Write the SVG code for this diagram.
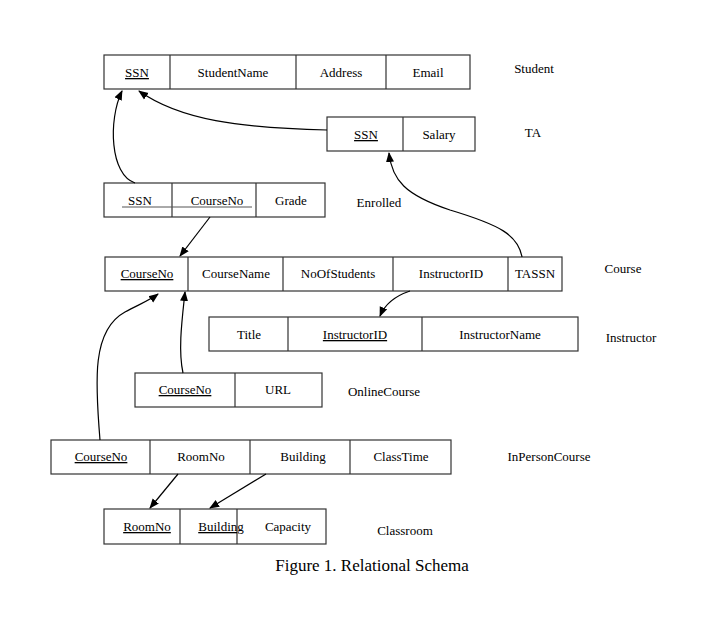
<svg xmlns="http://www.w3.org/2000/svg" width="705" height="620" viewBox="0 0 705 620">
<style>
rect{fill:#fff;stroke:#333;stroke-width:1.2}
.d{stroke:#333;stroke-width:1.2}
text{font-family:"Liberation Serif",serif;font-size:13px;fill:#000;text-anchor:middle}
.u{text-decoration:underline}
.c path{fill:none;stroke:#000;stroke-width:1.2;marker-end:url(#a)}
</style>
<defs><marker id="a" markerWidth="10" markerHeight="10" refX="9" refY="5" orient="auto" markerUnits="userSpaceOnUse"><path d="M0,1 L10,5 L0,9 z" fill="#000"/></marker></defs>
<rect x="0" y="0" width="705" height="620" style="stroke:none"/>
<g id="student"><rect x="104" y="55" width="366" height="34"/><path class="d" d="M170,55V89M296,55V89M386,55V89"/>
<text x="137" y="77" class="u">SSN</text><text x="233" y="77">StudentName</text><text x="341" y="77">Address</text><text x="428" y="77">Email</text><text x="534" y="73">Student</text></g>
<g id="ta"><rect x="327" y="117" width="148" height="34"/><path class="d" d="M403,117V151"/>
<text x="366" y="139" class="u">SSN</text><text x="439" y="139">Salary</text><text x="533" y="137">TA</text></g>
<g id="enrolled"><rect x="104" y="183" width="221" height="34"/><path class="d" d="M172,183V217M256,183V217"/>
<text x="140" y="205">SSN</text><text x="217" y="205">CourseNo</text><path d="M122,207H252" stroke="#555" stroke-width="1"/><text x="291" y="205">Grade</text><text x="379" y="207">Enrolled</text></g>
<g id="course"><rect x="105" y="257" width="457" height="34"/><path class="d" d="M188,257V291M283,257V291M393,257V291M508,257V291"/>
<text x="147" y="278" class="u">CourseNo</text><text x="236" y="278">CourseName</text><text x="338" y="278">NoOfStudents</text><text x="451" y="278">InstructorID</text><text x="535" y="278">TASSN</text><text x="623" y="273">Course</text></g>
<g id="instructor"><rect x="209" y="317" width="369" height="34"/><path class="d" d="M288,317V351M422,317V351"/>
<text x="249" y="339">Title</text><text x="355" y="339" class="u">InstructorID</text><text x="500" y="339">InstructorName</text><text x="631" y="342">Instructor</text></g>
<g id="online"><rect x="135" y="373" width="187" height="34"/><path class="d" d="M235,373V407"/>
<text x="185" y="394" class="u">CourseNo</text><text x="278" y="394">URL</text><text x="384" y="396">OnlineCourse</text></g>
<g id="inperson"><rect x="51" y="440" width="400" height="34"/><path class="d" d="M150,440V474M250,440V474M350,440V474"/>
<text x="101" y="461" class="u">CourseNo</text><text x="201" y="461">RoomNo</text><text x="303" y="461">Building</text><text x="401" y="461">ClassTime</text><text x="549" y="461">InPersonCourse</text></g>
<g id="classroom"><rect x="104" y="509" width="222" height="35"/><path class="d" d="M180,509V544M237,509V544"/>
<text x="147" y="531" class="u">RoomNo</text><text x="221" y="531" class="u">Building</text><text x="288" y="531">Capacity</text><text x="405" y="535">Classroom</text></g>
<text x="372" y="571" style="font-size:17px">Figure 1. Relational Schema</text>
<g class="c">
<path d="M135,183 C110,175 108,120 122,91"/>
<path d="M327,130 C240,128 180,120 139,91"/>
<path d="M522,257 C518,235 500,225 450,210 C405,195 392,180 389,153"/>
<path d="M210,217 L180,256"/>
<path d="M410,291 C395,296 385,304 380,316"/>
<path d="M183,373 C178,350 182,320 185,292"/>
<path d="M100,440 C95,380 92,330 125,312 C140,304 150,300 158,294"/>
<path d="M178,474 L150,508"/>
<path d="M266,474 L210,508"/>
</g>
</svg>
